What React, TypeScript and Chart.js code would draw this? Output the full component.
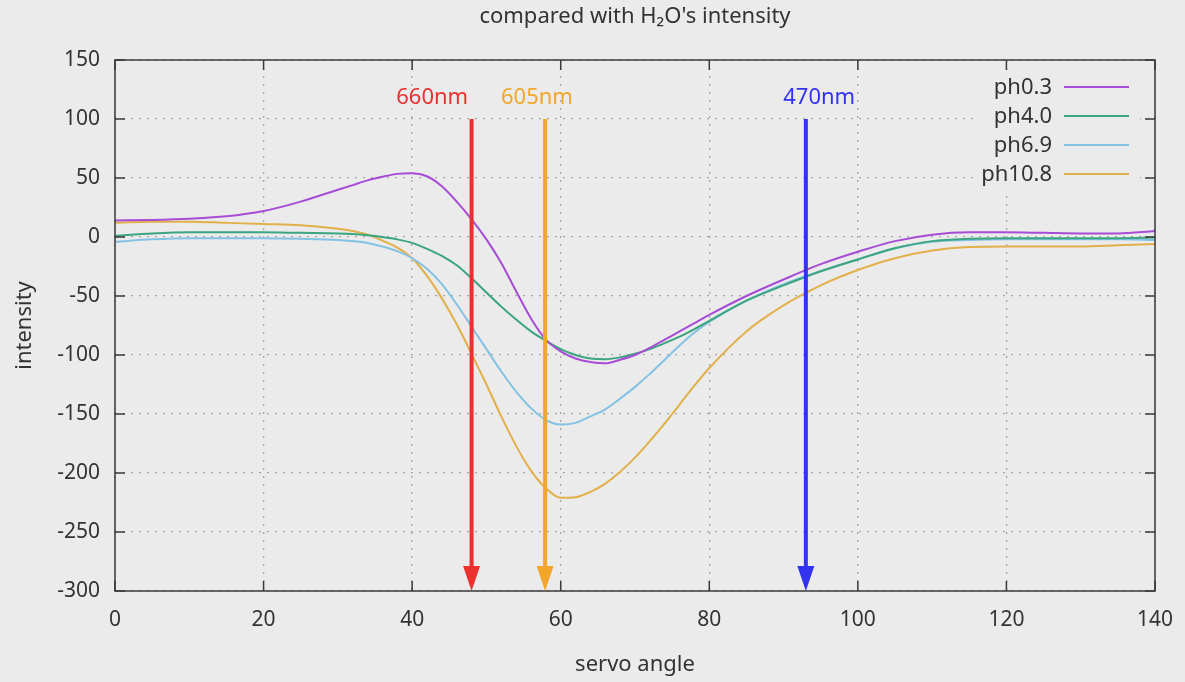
import React, { useEffect, useRef } from 'react';
import { Chart, registerables } from 'chart.js';

Chart.register(...registerables);

const servoAngle = [0, 5, 10, 15, 20, 25, 30, 32, 34, 36, 38, 40, 42, 44, 46, 48, 50, 52, 54, 56, 58, 60, 62, 64, 66, 68, 70, 72, 74, 76, 78, 80, 85, 90, 95, 100, 105, 110, 115, 120, 125, 130, 135, 140];
const ph03 = [14, 14.5, 15.5, 17.5, 22, 30, 40, 44, 48, 51, 53.5, 54, 51.5, 43, 30, 15, -2, -22, -46, -69, -87, -97, -103, -106, -107, -104, -100, -94, -87, -80, -73, -66, -50, -36, -23, -12.5, -3.5, 2, 4, 4, 3.5, 3, 3, 5];
const ph40 = [1, 3, 4, 4, 4, 3.5, 3, 2.5, 1.5, 0, -2, -5, -10, -16, -24, -35, -47, -59, -70, -80, -88, -95, -100, -103, -103.5, -102, -99, -95, -90, -84.5, -78, -71, -54, -41, -29, -19, -9.5, -3.5, -1.5, -1, -1, -1, -1, -0.5];
const ph69 = [-4, -2, -1, -1, -1, -1.5, -2.5, -3.5, -5, -8, -12, -18, -27, -40, -57, -76, -95, -114, -131, -145, -155, -159, -157.5, -152, -146, -137, -127, -116, -104, -92, -81, -72, -54, -40, -29, -19, -9.5, -4, -2.5, -2, -2, -2, -2, -2.5];
const ph108 = [12, 13, 13, 12, 11, 10, 7, 5, 2, -3, -9, -18, -33, -52, -74, -99, -125, -152, -177, -198, -213, -221, -220.5, -216, -209, -199, -187, -173, -158, -142, -126, -111, -80, -58, -41, -28, -18, -11.5, -8.5, -8, -8, -8, -7, -6];

const seriesLabels = ['ph0.3', 'ph4.0', 'ph6.9', 'ph10.8'];
const seriesValues = [ph03, ph40, ph69, ph108];
const seriesColors = ['#a64cd6', '#3aa57f', '#84c2e4', '#e2b04a'];

const arrowAngles = [48.0, 57.9, 93.0];
const arrowLabels = ['660nm', '605nm', '470nm'];
const arrowLabelAngles = [42.7, 56.8, 94.8];
const arrowColors = ['#ec2f2f', '#f2a62a', '#3232f0'];
const arrowTop = 100;
const arrowBottom = -300;
const arrowLabelY = 118;

const BG = '#ebebeb';
const TEXT = '#333333';
const FONT = 'Noto Sans';

const overlayPlugin = {
  id: 'overlay',
  afterDatasetsDraw(chart: any) {
    const { ctx, chartArea: a, scales } = chart;
    const x = scales.x;
    const y = scales.y;
    ctx.save();

    // opaque key box
    const boxLeft = a.right - 177;
    const boxRight = a.right - 15;
    const boxTop = a.top + 12;
    const boxBottom = a.top + 132;
    ctx.fillStyle = BG;
    ctx.fillRect(boxLeft, boxTop, boxRight - boxLeft, boxBottom - boxTop);

    // frame
    ctx.strokeStyle = '#3a3a3a';
    ctx.lineWidth = 1.5;
    ctx.strokeRect(a.left, a.top, a.right - a.left, a.bottom - a.top);

    // inward ticks (mirrored)
    ctx.beginPath();
    x.ticks.forEach((t: any) => {
      const px = x.getPixelForValue(t.value);
      ctx.moveTo(px, a.bottom);
      ctx.lineTo(px, a.bottom - 10);
      ctx.moveTo(px, a.top);
      ctx.lineTo(px, a.top + 10);
    });
    y.ticks.forEach((t: any) => {
      const py = y.getPixelForValue(t.value);
      ctx.moveTo(a.left, py);
      ctx.lineTo(a.left + 10, py);
      ctx.moveTo(a.right, py);
      ctx.lineTo(a.right - 10, py);
    });
    ctx.stroke();

    // arrows
    arrowAngles.forEach((ang, i) => {
      const px = x.getPixelForValue(ang);
      const pTop = y.getPixelForValue(arrowTop);
      const pBot = y.getPixelForValue(arrowBottom);
      const headH = 25;
      const headW = 8.5;
      ctx.strokeStyle = arrowColors[i];
      ctx.fillStyle = arrowColors[i];
      ctx.lineWidth = 4;
      ctx.beginPath();
      ctx.moveTo(px, pTop);
      ctx.lineTo(px, pBot - headH + 2);
      ctx.stroke();
      ctx.beginPath();
      ctx.moveTo(px - headW, pBot - headH);
      ctx.lineTo(px + headW, pBot - headH);
      ctx.lineTo(px, pBot);
      ctx.closePath();
      ctx.fill();

      ctx.font = `22px "${FONT}"`;
      ctx.textAlign = 'center';
      ctx.textBaseline = 'middle';
      ctx.fillText(arrowLabels[i], x.getPixelForValue(arrowLabelAngles[i]), y.getPixelForValue(arrowLabelY));
    });

    // key
    ctx.font = `22px "${FONT}"`;
    ctx.textAlign = 'right';
    ctx.textBaseline = 'middle';
    seriesLabels.forEach((lab, i) => {
      const ry = a.top + 28 + i * 29;
      ctx.fillStyle = TEXT;
      ctx.fillText(lab, a.right - 103, ry);
      ctx.strokeStyle = seriesColors[i];
      ctx.lineWidth = 2;
      ctx.beginPath();
      ctx.moveTo(a.right - 91, ry - 1);
      ctx.lineTo(a.right - 26, ry - 1);
      ctx.stroke();
    });

    ctx.restore();
  },
};

export default function App() {
  const canvasRef = useRef<HTMLCanvasElement | null>(null);

  useEffect(() => {
    const canvas = canvasRef.current;
    if (!canvas) return;
    const datasets = seriesLabels.map((label, i) => ({
      label,
      data: servoAngle.map((a, j) => ({ x: a, y: seriesValues[i][j] })),
      borderColor: seriesColors[i],
      backgroundColor: seriesColors[i],
      borderWidth: 2,
      pointRadius: 0,
      fill: false,
      cubicInterpolationMode: 'monotone' as const,
    }));

    const chart = new Chart(canvas, {
      type: 'line',
      data: { datasets },
      options: {
        responsive: false,
        animation: false,
        devicePixelRatio: 1,
        layout: { padding: { left: 0, right: 0, top: 0, bottom: 0 } },
        font: { family: FONT },
        plugins: {
          legend: { display: false },
          tooltip: { enabled: false },
          title: {
            display: true,
            fullSize: false,
            text: "compared with H₂O's intensity",
            color: TEXT,
            font: { family: FONT, size: 22, weight: 'normal' },
            padding: { top: 3.8, bottom: 29.8 },
          },
        },
        scales: {
          x: {
            type: 'linear',
            min: 0,
            max: 140,
            ticks: {
              stepSize: 20,
              color: TEXT,
              padding: 16.4,
              font: { family: FONT, size: 21 },
              maxRotation: 0,
            },
            grid: { color: '#a6a6a6', lineWidth: 1.3, drawTicks: false },
            border: { display: false, dash: [2, 6] },
            title: {
              display: true,
              text: 'servo angle',
              color: TEXT,
              font: { family: FONT, size: 22 },
              padding: { top: 0, bottom: 3.8 },
            },
            afterFit: (s: any) => {
              s.height = 91;
              s.paddingRight = 30;
              s.paddingLeft = 0;
            },
          },
          y: {
            type: 'linear',
            min: -300,
            max: 150,
            ticks: {
              stepSize: 50,
              color: TEXT,
              padding: 15,
              font: { family: FONT, size: 21 },
            },
            grid: { color: '#a6a6a6', lineWidth: 1.3, drawTicks: false },
            border: { display: false, dash: [2, 6] },
            title: {
              display: true,
              text: 'intensity',
              color: TEXT,
              font: { family: FONT, size: 22 },
              padding: { top: 11.8, bottom: 0 },
            },
            afterFit: (s: any) => {
              s.width = 115;
              s.paddingTop = 0;
              s.paddingBottom = 0;
            },
          },
        },
      },
      plugins: [overlayPlugin],
    } as any);

    return () => {
      chart.destroy();
    };
  }, []);

  return (
    <div
      style={{
        position: 'absolute',
        left: 0,
        top: 0,
        width: 1185,
        height: 682,
        background: BG,
        overflow: 'hidden',
      }}
    >
      <canvas ref={canvasRef} width={1185} height={682} style={{ display: 'block' }} />
    </div>
  );
}
